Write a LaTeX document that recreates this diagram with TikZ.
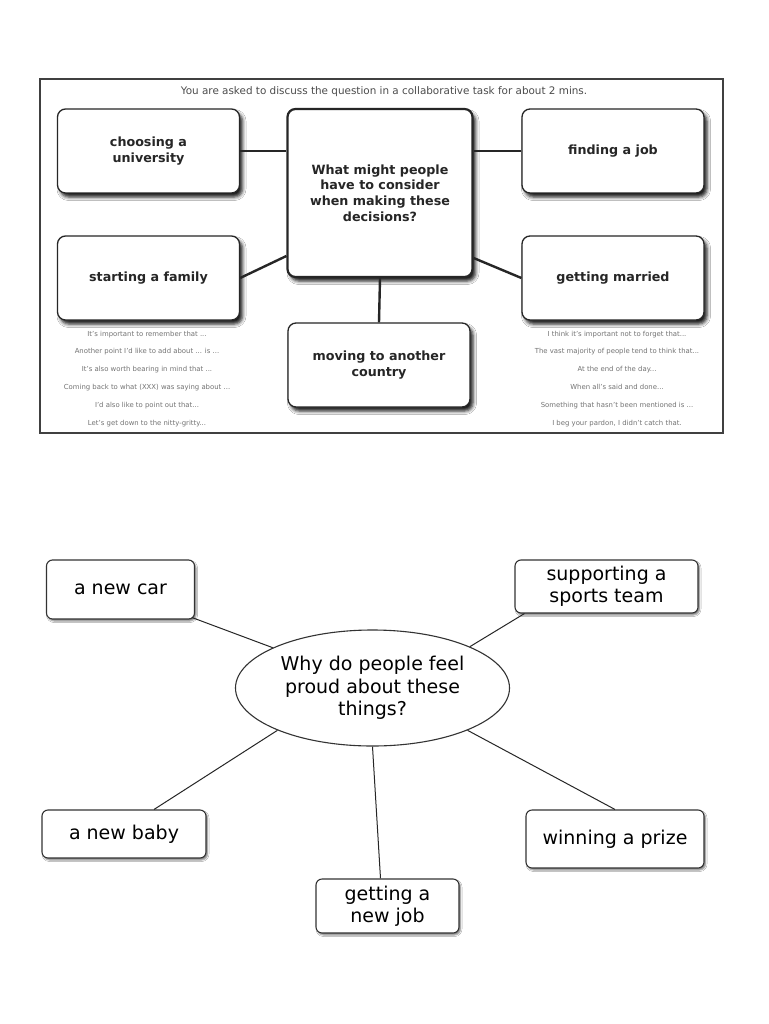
\documentclass[tikz,border=0pt]{standalone}
\usepackage{fontspec}
\setmainfont{DejaVu Sans}
\usetikzlibrary{matrix,shapes.geometric,shadows.blur}

\begin{document}
\begin{tikzpicture}[x=1pt,y=-1pt,
  topbox/.style={draw=black!85, line width=1.3pt, rounded corners=8pt, fill=white, align=center,
    minimum width=182pt, minimum height=84pt, text=black!85, font=\fontsize{12.7}{15.7}\selectfont\bfseries,
    blur shadow={shadow xshift=3pt, shadow yshift=-4pt, shadow blur radius=3.5pt, shadow opacity=90}},
  topline/.style={line width=2.4pt, black!85},
  phrases/.style={matrix of nodes, row sep=11.8pt,
    nodes={inner sep=0pt, text height=4.6pt, text depth=1.4pt, text=black!55, font=\fontsize{6.9}{7}\selectfont}},
  item/.style={draw=black!80, line width=1.1pt, rounded corners=6pt, fill=white, align=center, inner sep=0pt,
    font=\fontsize{19}{22.5}\selectfont,
    blur shadow={shadow xshift=1.5pt, shadow yshift=-2pt, shadow blur radius=1.5pt, shadow opacity=50}},
  spoke/.style={line width=1pt, black!85},
]
\fill[white] (0,0) rectangle (768,1024);
\useasboundingbox (0,0) rectangle (768,1024);

% collaborative task card
\draw[line width=1.5pt, black!75] (40,79) rectangle (723,433);
\node[text=black!70, font=\fontsize{10.4}{12}\selectfont] (task) at (384,92)
  {You are asked to discuss the question in a collaborative task for about 2 mins.};

\node[topbox, minimum width=185pt, minimum height=168pt, line width=2.2pt] (question) at (380,193)
  {What might people\\have to consider\\when making these\\decisions?};
\node[topbox] (uni) at (148.5,151) {choosing a\\university};
\node[topbox] (job) at (613,151) {finding a job};
\node[topbox] (family) at (148.5,278) {starting a family};
\node[topbox] (married) at (613,278) {getting married};
\node[topbox] (moving) at (379,365) {moving to another\\country};

\draw[topline] (uni.east) -- (question.west |- uni.east);
\draw[topline] (job.west) -- (question.east |- job.west);
\draw[topline] (family.east) -- ([yshift=-63pt]question.west);
\draw[topline] (married.west) -- ([yshift=-65pt]question.east);
\draw[topline] (question.south) -- (moving.north);

\matrix[phrases] (leftphrases) at (147,379) {
  It's important to remember that ... \\
  Another point I'd like to add about ... is ... \\
  It's also worth bearing in mind that ... \\
  Coming back to what (XXX) was saying about ... \\
  I'd also like to point out that... \\
  Let's get down to the nitty-gritty... \\
};
\matrix[phrases] (rightphrases) at (617,379) {
  I think it's important not to forget that... \\
  The vast majority of people tend to think that... \\
  At the end of the day... \\
  When all's said and done... \\
  Something that hasn't been mentioned is ... \\
  I beg your pardon, I didn't catch that. \\
};

% mind map
\node[draw=black!80, line width=1.1pt, ellipse, inner sep=0pt, minimum width=274pt, minimum height=116pt,
  align=center, font=\fontsize{19}{22.5}\selectfont] (proud) at (372.5,688)
  {Why do people feel\\proud about these\\things?};
\node[item, minimum width=148pt, minimum height=59pt] (car) at (120.5,589.5) {a new car};
\node[item, minimum width=183pt, minimum height=53pt] (team) at (606.5,586.5) {supporting a\\sports team};
\node[item, minimum width=164pt, minimum height=48pt] (baby) at (124,834) {a new baby};
\node[item, minimum width=178pt, minimum height=58pt] (prize) at (615,839) {winning a prize};
\node[item, minimum width=143pt, minimum height=54pt] (newjob) at (387.5,906) {getting a\\new job};

\draw[spoke] ([xshift=-3pt,yshift=2pt]car.south east) -- (proud.158);
\draw[spoke] ([xshift=10pt]team.south west) -- (proud.23);
\draw[spoke] ([xshift=30pt]baby.north) -- (proud.204);
\draw[spoke] (prize.north) -- (proud.336);
\draw[spoke] (proud.south) -- ([xshift=-7pt]newjob.north);

\end{tikzpicture}
\end{document}
